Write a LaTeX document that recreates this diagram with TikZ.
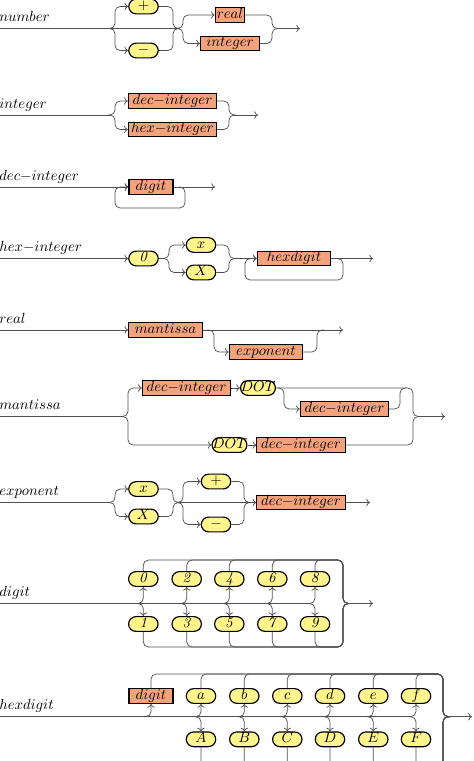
\documentclass[tikz,border=0pt]{standalone}
\usepackage{xcolor}
\usepackage{amsmath}
\usepackage{tikz}
\usetikzlibrary{shapes,arrows.meta,positioning}

\definecolor{ntfill}{RGB}{244,162,124}
\definecolor{tfill}{RGB}{255,245,140}
\definecolor{railcol}{RGB}{80,80,80}

\begin{document}
\begin{tikzpicture}[
    x=0.68pt, y=-0.68pt,
    nonterminal/.style={rectangle, draw, thick, fill=ntfill, minimum height=10pt, inner xsep=1pt, inner ysep=0.5pt, text height=6.5pt, text depth=2pt},
    terminal/.style={rectangle, rounded corners=5pt, draw, thick, fill=tfill, minimum height=10pt, minimum width=20pt, inner xsep=0pt, inner ysep=0.5pt, text height=6.5pt, text depth=2pt},
    rail/.style={draw=railcol, line width=0.5pt, rounded corners=3.5pt},
    railto/.style={rail, -{To[length=2.5pt,width=5pt]}},
    rulename/.style={anchor=base west, inner sep=0pt}
]
\clip (0,0) rectangle (474,761);

\node[rulename] (num-name) at (-1,21.5) {$number$};
\coordinate (num-in) at (-2,28.5);
\coordinate (num-s1) at (110,28.5);
\coordinate (num-s1v) at (115,28.5);
\coordinate (num-j1v) at (173,28.5);
\coordinate (num-j1) at (178,28.5);
\coordinate (num-s2v) at (183,28.5);
\coordinate (num-j2v) at (272,28.5);
\coordinate (num-j2) at (277,28.5);
\coordinate (num-out) at (300,28.5);
\node[terminal] (num-plus) at (143.5,6.5) {$+$};
\node[terminal] (num-minus) at (143.5,50.5) {$-$};
\node[nonterminal, minimum width=20pt] (num-real) at (230,15) {$real$};
\node[nonterminal, minimum width=40pt] (num-integer) at (230,43.5) {$integer$};
\draw[rail] (num-in) -- (num-j1);
\draw[railto] (num-s1) -- (num-s1v) |- (num-plus);
\draw[railto] (num-s1) -- (num-s1v) |- (num-minus);
\draw[rail] (num-plus) -| (num-j1v) -- (num-j1);
\draw[rail] (num-minus) -| (num-j1v) -- (num-j1);
\draw[railto] (num-j1) -- (num-s2v) |- (num-real);
\draw[railto] (num-j1) -- (num-s2v) |- (num-integer);
\draw[rail] (num-real) -| (num-j2v) -- (num-j2);
\draw[rail] (num-integer) -| (num-j2v) -- (num-j2);
\draw[railto] (num-j2) -- (num-out);

\node[rulename] (int-name) at (-1,108) {$integer$};
\coordinate (int-in) at (-2,115);
\coordinate (int-s) at (110,115);
\coordinate (int-sv) at (115,115);
\coordinate (int-jv) at (229,115);
\coordinate (int-j) at (234,115);
\coordinate (int-out) at (258,115);
\node[nonterminal, minimum width=60pt] (int-dec) at (172.5,101) {$dec{-}integer$};
\node[nonterminal, minimum width=60pt] (int-hex) at (172.5,129.5) {$hex{-}integer$};
\draw[rail] (int-in) -- (int-s);
\draw[railto] (int-s) -- (int-sv) |- (int-dec);
\draw[railto] (int-s) -- (int-sv) |- (int-hex);
\draw[rail] (int-dec) -| (int-jv) -- (int-j);
\draw[rail] (int-hex) -| (int-jv) -- (int-j);
\draw[railto] (int-j) -- (int-out);

\node[rulename] (dec-name) at (-1,180) {$dec{-}integer$};
\coordinate (dec-in) at (-2,187);
\coordinate (dec-l1) at (179,187);
\coordinate (dec-l2) at (115,187);
\coordinate (dec-out) at (215,187);
\node[nonterminal, minimum width=30pt] (dec-digit) at (151,187) {$digit$};
\draw[railto] (dec-in) -- (dec-digit);
\draw[railto] (dec-digit) -- (dec-out);
\draw[railto] (dec-l1) -- ++(6,0) -- ++(0,21) -| (dec-l2) -- (dec-digit);

\node[rulename] (hexi-name) at (-1,251.5) {$hex{-}integer$};
\coordinate (hexi-in) at (-2,258.5);
\coordinate (hexi-s) at (164,258.5);
\coordinate (hexi-sv) at (169,258.5);
\coordinate (hexi-jv) at (229,258.5);
\coordinate (hexi-j) at (234,258.5);
\coordinate (hexi-l1) at (337,258.5);
\coordinate (hexi-l2) at (245,258.5);
\coordinate (hexi-out) at (373,258.5);
\node[terminal] (hexi-zero) at (143.5,258.5) {\textit{0}};
\node[terminal] (hexi-xl) at (201,245) {$x$};
\node[terminal] (hexi-xu) at (201,272.5) {$X$};
\node[nonterminal, minimum width=50pt] (hexi-hexdigit) at (294,258.5) {$hexdigit$};
\draw[railto] (hexi-in) -- (hexi-zero);
\draw[rail] (hexi-zero) -- (hexi-s);
\draw[railto] (hexi-s) -- (hexi-sv) |- (hexi-xl);
\draw[railto] (hexi-s) -- (hexi-sv) |- (hexi-xu);
\draw[rail] (hexi-xl) -| (hexi-jv) -- (hexi-j);
\draw[rail] (hexi-xu) -| (hexi-jv) -- (hexi-j);
\draw[railto] (hexi-j) -- (hexi-hexdigit);
\draw[railto] (hexi-hexdigit) -- (hexi-out);
\draw[railto] (hexi-l1) -- ++(6,0) -- ++(0,21.5) -| (hexi-l2) -- (hexi-hexdigit);

\node[rulename] (real-name) at (-1,323) {$real$};
\coordinate (real-in) at (-2,330);
\coordinate (real-s) at (209,330);
\coordinate (real-sv) at (214,330);
\coordinate (real-jv) at (317,330);
\coordinate (real-j) at (322,330);
\coordinate (real-out) at (343,330);
\node[nonterminal, minimum width=50pt] (real-mant) at (165.5,330) {$mantissa$};
\node[nonterminal, minimum width=50pt] (real-exp) at (266,352) {$exponent$};
\draw[railto] (real-in) -- (real-mant);
\draw[railto] (real-mant) -- (real-out);
\draw[railto] (real-s) -- (real-sv) |- (real-exp);
\draw[rail] (real-exp) -| (real-jv) -- (real-j);

\node[rulename] (man-name) at (-1,409.5) {$mantissa$};
\coordinate (man-in) at (-2,416.5);
\coordinate (man-s) at (123,416.5);
\coordinate (man-sv) at (128,416.5);
\coordinate (man-os) at (279,388);
\coordinate (man-osv) at (284,388);
\coordinate (man-ojv) at (400,388);
\coordinate (man-oj) at (405,388);
\coordinate (man-jv) at (413,416.5);
\coordinate (man-j) at (418,416.5);
\coordinate (man-out) at (445,416.5);
\node[nonterminal, minimum width=60pt] (man-dec1) at (186.5,388) {$dec{-}integer$};
\node[terminal] (man-dot1) at (258,388) {$DOT$};
\node[nonterminal, minimum width=60pt] (man-dec2) at (344.5,409) {$dec{-}integer$};
\node[terminal] (man-dot2) at (229.5,445) {$DOT$};
\node[nonterminal, minimum width=60pt] (man-dec3) at (301,445) {$dec{-}integer$};
\draw[rail] (man-in) -- (man-s);
\draw[railto] (man-s) -- (man-sv) |- (man-dec1);
\draw[railto] (man-dec1) -- (man-dot1);
\draw[rail] (man-dot1) -| (man-jv) -- (man-j);
\draw[railto] (man-os) -- (man-osv) |- (man-dec2);
\draw[rail] (man-dec2) -| (man-ojv) -- (man-oj);
\draw[railto] (man-s) -- (man-sv) |- (man-dot2);
\draw[railto] (man-dot2) -- (man-dec3);
\draw[rail] (man-dec3) -| (man-jv) -- (man-j);
\draw[railto] (man-j) -- (man-out);

\node[rulename] (exp-name) at (-1,495.5) {$exponent$};
\coordinate (exp-in) at (-2,502.5);
\coordinate (exp-s1) at (110,502.5);
\coordinate (exp-s1v) at (115,502.5);
\coordinate (exp-j1v) at (173,502.5);
\coordinate (exp-j1) at (178,502.5);
\coordinate (exp-s2v) at (183,502.5);
\coordinate (exp-j2v) at (244,502.5);
\coordinate (exp-j2) at (249,502.5);
\coordinate (exp-out) at (370,502.5);
\node[terminal] (exp-xl) at (143.5,489) {$x$};
\node[terminal] (exp-xu) at (143.5,516.5) {$X$};
\node[terminal] (exp-plus) at (216,481.5) {$+$};
\node[terminal] (exp-minus) at (216,524.5) {$-$};
\node[nonterminal, minimum width=60pt] (exp-dec) at (301,502.5) {$dec{-}integer$};
\draw[rail] (exp-in) -- (exp-s1);
\draw[railto] (exp-s1) -- (exp-s1v) |- (exp-xl);
\draw[railto] (exp-s1) -- (exp-s1v) |- (exp-xu);
\draw[rail] (exp-xl) -| (exp-j1v) -- (exp-j1);
\draw[rail] (exp-xu) -| (exp-j1v) -- (exp-j1);
\draw[rail] (exp-j1) -- (exp-j2);
\draw[railto] (exp-j1) -- (exp-s2v) |- (exp-plus);
\draw[railto] (exp-j1) -- (exp-s2v) |- (exp-minus);
\draw[rail] (exp-plus) -| (exp-j2v) -- (exp-j2);
\draw[rail] (exp-minus) -| (exp-j2v) -- (exp-j2);
\draw[railto] (exp-j2) -- (exp-dec);
\draw[railto] (exp-dec) -- (exp-out);

\node[rulename] (dig-name) at (-1,596.5) {$digit$};
\coordinate (dig-in) at (-2,603.5);
\coordinate (dig-b0) at (138.3,603.5);
\coordinate (dig-b2) at (181.7,603.5);
\coordinate (dig-b4) at (224.3,603.5);
\coordinate (dig-b6) at (267.3,603.5);
\coordinate (dig-b8) at (310,603.5);
\coordinate (dig-tr) at (343,560);
\coordinate (dig-br) at (343,647);
\coordinate (dig-jv) at (343,603.5);
\coordinate (dig-j) at (348,603.5);
\coordinate (dig-out) at (373,603.5);
\node[terminal] (dig-0) at (143.3,579) {\textit{0}};
\node[terminal] (dig-1) at (143.3,624) {\textit{1}};
\node[terminal] (dig-2) at (186.7,579) {\textit{2}};
\node[terminal] (dig-3) at (186.7,624) {\textit{3}};
\node[terminal] (dig-4) at (229.3,579) {\textit{4}};
\node[terminal] (dig-5) at (229.3,624) {\textit{5}};
\node[terminal] (dig-6) at (272.3,579) {\textit{6}};
\node[terminal] (dig-7) at (272.3,624) {\textit{7}};
\node[terminal] (dig-8) at (315,579) {\textit{8}};
\node[terminal] (dig-9) at (315,624) {\textit{9}};
\draw[rail] (dig-in) -- (dig-b8);
\draw[railto] (dig-b0) -| (dig-0);
\draw[railto] (dig-b0) -| (dig-1);
\draw[railto] (dig-b2) -| (dig-2);
\draw[railto] (dig-b2) -| (dig-3);
\draw[railto] (dig-b4) -| (dig-4);
\draw[railto] (dig-b4) -| (dig-5);
\draw[railto] (dig-b6) -| (dig-6);
\draw[railto] (dig-b6) -| (dig-7);
\draw[railto] (dig-b8) -| (dig-8);
\draw[railto] (dig-b8) -| (dig-9);
\draw[rail] (dig-0) |- (dig-tr) -- (dig-jv) -- (dig-j);
\draw[rail] (dig-2) |- (dig-tr) -- (dig-jv) -- (dig-j);
\draw[rail] (dig-4) |- (dig-tr) -- (dig-jv) -- (dig-j);
\draw[rail] (dig-6) |- (dig-tr) -- (dig-jv) -- (dig-j);
\draw[rail] (dig-8) |- (dig-tr) -- (dig-jv) -- (dig-j);
\draw[rail] (dig-1) |- (dig-br) -- (dig-jv) -- (dig-j);
\draw[rail] (dig-3) |- (dig-br) -- (dig-jv) -- (dig-j);
\draw[rail] (dig-5) |- (dig-br) -- (dig-jv) -- (dig-j);
\draw[rail] (dig-7) |- (dig-br) -- (dig-jv) -- (dig-j);
\draw[rail] (dig-9) |- (dig-br) -- (dig-jv) -- (dig-j);
\draw[railto] (dig-j) -- (dig-out);

\node[rulename] (hexd-name) at (-1,709.7) {$hexdigit$};
\coordinate (hexd-in) at (-2,716.7);
\coordinate (hexd-b0) at (146,716.7);
\coordinate (hexd-ba) at (196,716.7);
\coordinate (hexd-bb) at (239.3,716.7);
\coordinate (hexd-bc) at (282.3,716.7);
\coordinate (hexd-bd) at (325,716.7);
\coordinate (hexd-be) at (368.3,716.7);
\coordinate (hexd-bf) at (411,716.7);
\coordinate (hexd-tr) at (443,674);
\coordinate (hexd-br) at (443,782);
\coordinate (hexd-jv) at (443,716.7);
\coordinate (hexd-j) at (448,716.7);
\coordinate (hexd-out) at (472,716.7);
\node[nonterminal, minimum width=30pt] (hexd-digit) at (151,696) {$digit$};
\node[terminal] (hexd-a) at (201,696) {$a$};
\node[terminal] (hexd-A) at (201,739.3) {$A$};
\node[terminal] (hexd-b) at (244.3,696) {$b$};
\node[terminal] (hexd-B) at (244.3,739.3) {$B$};
\node[terminal] (hexd-c) at (287.3,696) {$c$};
\node[terminal] (hexd-C) at (287.3,739.3) {$C$};
\node[terminal] (hexd-d) at (330,696) {$d$};
\node[terminal] (hexd-D) at (330,739.3) {$D$};
\node[terminal] (hexd-e) at (373.3,696) {$e$};
\node[terminal] (hexd-E) at (373.3,739.3) {$E$};
\node[terminal] (hexd-f) at (416,696) {$f$};
\node[terminal] (hexd-F) at (416,739.3) {$F$};
\draw[rail] (hexd-in) -- (hexd-bf);
\draw[railto] (hexd-b0) -| (hexd-digit);
\draw[railto] (hexd-ba) -| (hexd-a);
\draw[railto] (hexd-ba) -| (hexd-A);
\draw[railto] (hexd-bb) -| (hexd-b);
\draw[railto] (hexd-bb) -| (hexd-B);
\draw[railto] (hexd-bc) -| (hexd-c);
\draw[railto] (hexd-bc) -| (hexd-C);
\draw[railto] (hexd-bd) -| (hexd-d);
\draw[railto] (hexd-bd) -| (hexd-D);
\draw[railto] (hexd-be) -| (hexd-e);
\draw[railto] (hexd-be) -| (hexd-E);
\draw[railto] (hexd-bf) -| (hexd-f);
\draw[railto] (hexd-bf) -| (hexd-F);
\draw[rail] (hexd-digit) |- (hexd-tr) -- (hexd-jv) -- (hexd-j);
\draw[rail] (hexd-a) |- (hexd-tr) -- (hexd-jv) -- (hexd-j);
\draw[rail] (hexd-b) |- (hexd-tr) -- (hexd-jv) -- (hexd-j);
\draw[rail] (hexd-c) |- (hexd-tr) -- (hexd-jv) -- (hexd-j);
\draw[rail] (hexd-d) |- (hexd-tr) -- (hexd-jv) -- (hexd-j);
\draw[rail] (hexd-e) |- (hexd-tr) -- (hexd-jv) -- (hexd-j);
\draw[rail] (hexd-f) |- (hexd-tr) -- (hexd-jv) -- (hexd-j);
\draw[rail] (hexd-A) |- (hexd-br) -- (hexd-jv) -- (hexd-j);
\draw[rail] (hexd-B) |- (hexd-br) -- (hexd-jv) -- (hexd-j);
\draw[rail] (hexd-C) |- (hexd-br) -- (hexd-jv) -- (hexd-j);
\draw[rail] (hexd-D) |- (hexd-br) -- (hexd-jv) -- (hexd-j);
\draw[rail] (hexd-E) |- (hexd-br) -- (hexd-jv) -- (hexd-j);
\draw[rail] (hexd-F) |- (hexd-br) -- (hexd-jv) -- (hexd-j);
\draw[railto] (hexd-j) -- (hexd-out);
\end{tikzpicture}
\end{document}
